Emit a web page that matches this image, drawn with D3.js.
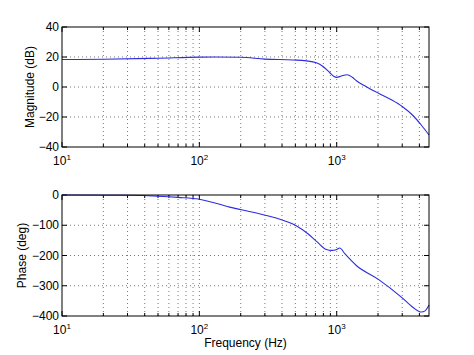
<!DOCTYPE html>
<html><head><meta charset="utf-8">
<script src="https://cdn.jsdelivr.net/npm/d3@7"></script>
<style>
body{margin:0;background:#fff;}
text{font-family:"Liberation Sans",Arial,Helvetica,sans-serif;fill:#000;}
</style></head>
<body>
<svg id="c" width="474" height="355"></svg>
<script>
const magFreq = [10,20,50,100,130,200,300,480,600,711,800,891,950,1000,1080,1190,1300,1400,1644,2000,2500,3000,3590,4100,4700];
const magDb   = [18.3,18.5,19.2,19.9,20.0,19.8,18.6,18.0,17.4,16.2,13.5,9.5,7.2,6.4,7.3,8.2,6.5,4.0,0.2,-4,-8.5,-13,-19,-25,-32];
const phFreq = [10,30,50,70,100,166,250,363,500,617,720,841,920,1000,1052,1150,1390,2000,3000,3600,4130,4400,4700];
const phDeg  = [0,-1,-4,-8,-14,-40,-58,-76,-100,-128,-155,-180,-183,-180,-175,-195,-233,-278,-340,-372,-387,-383,-364];
const xDomain = [10,4700];
const xTicks = [10,100,1000];
const magTicks = [-40,-20,0,20,40];
const phTicks = [-400,-300,-200,-100,0];

const svg = d3.select("#c");
const L = 62, R = 429;
const x = d3.scaleLog().domain(xDomain).range([L,R]);
const minor = [];
for (let d=10; d<=1000; d*=10) for (let k=1;k<10;k++){const v=d*k; if(v>=xDomain[0]&&v<=xDomain[1]) minor.push(v);}

function panel(top,bottom,domain,ticks,freq,vals,label,labelX){
  const y = d3.scaleLinear().domain(domain).range([bottom,top]);
  const g = svg.append("g");
  g.selectAll(".vg").data(minor.filter(v=>v>xDomain[0])).join("line")
    .attr("x1",d=>x(d)).attr("x2",d=>x(d)).attr("y1",top).attr("y2",bottom)
    .attr("stroke","#555").attr("stroke-width",0.8).attr("stroke-dasharray","1,3");
  g.selectAll(".hg").data(ticks.slice(1,-1)).join("line")
    .attr("x1",L).attr("x2",R).attr("y1",d=>y(d)).attr("y2",d=>y(d))
    .attr("stroke","#555").attr("stroke-width",0.8).attr("stroke-dasharray","1,3");
  const tk = g.append("g");
  minor.forEach(v=>{
    const len = xTicks.includes(v)?5:3;
    tk.append("line").attr("x1",x(v)).attr("x2",x(v)).attr("y1",bottom).attr("y2",bottom-len).attr("stroke","#000");
    tk.append("line").attr("x1",x(v)).attr("x2",x(v)).attr("y1",top).attr("y2",top+len).attr("stroke","#000");
  });
  ticks.forEach(v=>{
    tk.append("line").attr("x1",L).attr("x2",L+5).attr("y1",y(v)).attr("y2",y(v)).attr("stroke","#000");
    tk.append("line").attr("x1",R).attr("x2",R-5).attr("y1",y(v)).attr("y2",y(v)).attr("stroke","#000");
  });
  const line = d3.line().x((d,i)=>x(freq[i])).y(d=>y(d)).curve(d3.curveMonotoneX);
  g.append("path").attr("d",line(vals)).attr("fill","none").attr("stroke","#2c2ce0").attr("stroke-width",1.1);
  g.append("rect").attr("x",L).attr("y",top).attr("width",R-L).attr("height",bottom-top)
    .attr("fill","none").attr("stroke","#000").attr("stroke-width",1);
  g.selectAll(".yl").data(ticks).join("text")
    .attr("x",L-3).attr("y",d=>y(d)+4).attr("text-anchor","end").attr("font-size",12)
    .text(d=>d<0?"\u2212"+Math.abs(d):d);
  xTicks.forEach(v=>{
    const t = g.append("text").attr("x",x(v)).attr("y",bottom+18).attr("text-anchor","middle").attr("font-size",12);
    t.append("tspan").text("10");
    t.append("tspan").attr("font-size",8).attr("dy",-5).text(Math.round(Math.log10(v)));
  });
  g.append("text").attr("transform",`translate(${labelX},${(top+bottom)/2}) rotate(-90)`)
    .attr("text-anchor","middle").attr("font-size",12).text(label);
  return y;
}
panel(27,147,[-40,40],magTicks,magFreq,magDb,"Magnitude (dB)",34);
panel(195,316,[-400,0],phTicks,phFreq,phDeg,"Phase (deg)",26);
svg.append("text").attr("x",(L+R)/2).attr("y",347).attr("text-anchor","middle").attr("font-size",12).text("Frequency (Hz)");
</script>
</body></html>
